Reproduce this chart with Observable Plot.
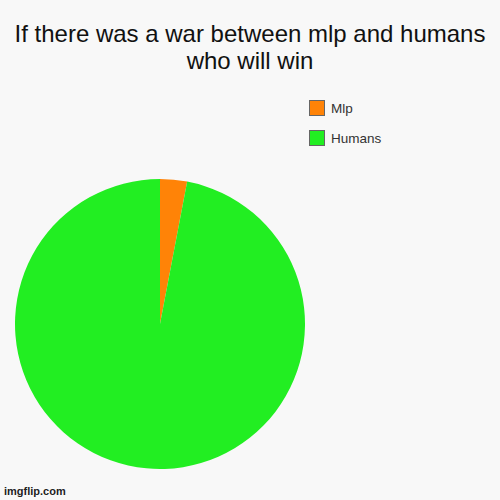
<!DOCTYPE html>
<html>
<head>
<meta charset="utf-8">
<script src="https://cdn.jsdelivr.net/npm/d3@7"></script>
<script src="https://cdn.jsdelivr.net/npm/@observablehq/plot@0.6"></script>
<style>
  html, body { margin: 0; padding: 0; background: #f8f8f8; }
  #wrap { position: relative; width: 500px; height: 500px; background: #f8f8f8; font-family: "Liberation Sans", Arial, sans-serif; overflow: hidden; }
  #title { position: absolute; left: 0; top: 20px; width: 500px; text-align: center; font-size: 24px; line-height: 27px; color: #111; }
  #chart { position: absolute; left: 0; top: 85px; }
  #legend { position: absolute; left: 309px; top: 100px; font-size: 13.5px; color: #333; }
  .item { display: flex; align-items: center; height: 16px; margin-bottom: 14px; }
  .sw { width: 14px; height: 14px; border: 1px solid #666; margin-right: 6px; }
  #wm { position: absolute; left: 4px; top: 485px; font-size: 11px; font-weight: bold; color: #222; text-shadow: 0 0 2px #fff, 0 0 2px #fff; }
</style>
</head>
<body>
<div id="wrap">
  <div id="title">If there was a war between mlp and humans<br>who will win</div>
  <div id="chart"></div>
  <div id="legend"></div>
  <div id="wm">imgflip.com</div>
</div>
<script>
const categories = ["Mlp", "Humans"];
const values = [3, 97];
const colors = ["#ff8307", "#22ee22"];

const slices = categories.map((c, i) => ({category: c, value: values[i]}));

const legend = document.getElementById("legend");
categories.forEach((c, i) => {
  const it = document.createElement("div");
  it.className = "item";
  it.innerHTML = `<div class="sw" style="background:${colors[i]}"></div><span>${c}</span>`;
  legend.appendChild(it);
});

function pieMark(index, scales, values_, dimensions, context) {
  const cx = scales.x(0), cy = scales.y(0);
  const r = Math.abs(scales.x(1) - scales.x(0));
  const pie = d3.pie().sort(null).value(d => d.value)(slices);
  const arc = d3.arc().innerRadius(0).outerRadius(r);
  const g = d3.create("svg:g").attr("transform", `translate(${cx},${cy})`);
  g.selectAll("path").data(pie).join("path")
    .attr("d", arc)
    .attr("fill", (d, i) => colors[i]);
  return g.node();
}

const plot = Plot.plot({
  width: 500,
  height: 415,
  margin: 0,
  style: {background: "transparent"},
  x: {domain: [-1, 1], range: [15, 305], axis: null},
  y: {domain: [-1, 1], range: [384, 94], axis: null},
  marks: [
    Plot.dot([0], {x: () => 0, y: () => 0, r: 0}),
    pieMark
  ]
});
document.getElementById("chart").appendChild(plot);
</script>
</body>
</html>
